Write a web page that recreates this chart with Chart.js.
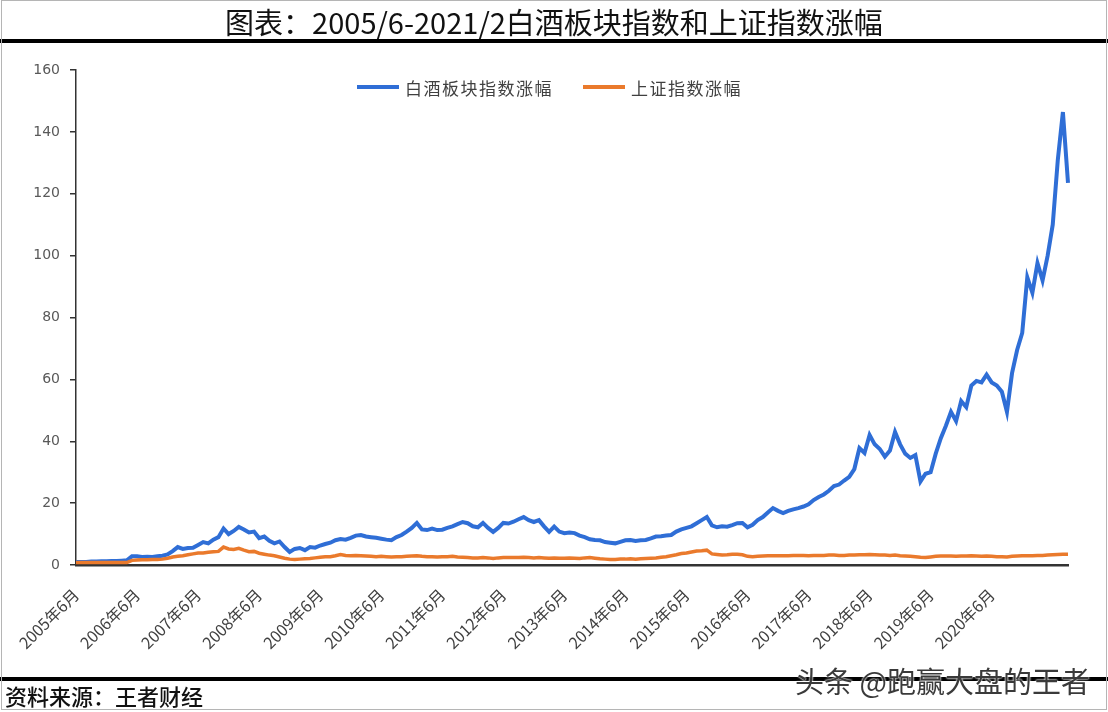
<!DOCTYPE html>
<html><head><meta charset="utf-8">
<script src="https://cdn.jsdelivr.net/npm/chart.js@4.4.0/dist/chart.umd.min.js"></script>
<style>
html,body{margin:0;padding:0;background:#fff;}
#wrap{position:relative;width:1108px;height:712px;overflow:hidden;background:#fff;}
#c{position:absolute;left:0;top:0;}
#frame{position:absolute;left:1px;top:0;width:1104px;height:708px;border:1px solid #b5b5b5;pointer-events:none;}
#title{position:absolute;left:0;top:1px;width:1108px;text-align:center;font-family:'Noto Sans CJK SC';font-size:29px;color:#111;line-height:40px;white-space:nowrap;}
#tline{position:absolute;left:0;top:39px;width:1108px;height:4px;background:#000;}
#bline{position:absolute;left:0;top:677px;width:1108px;height:4px;background:#000;}
#src{position:absolute;left:5px;top:680px;font-family:'Noto Sans CJK SC';font-size:22px;font-weight:500;color:#111;line-height:30px;white-space:nowrap;}
#wm{position:absolute;left:795px;top:661px;font-family:'Noto Sans CJK SC';font-size:29px;color:#3a3a3a;line-height:38px;white-space:nowrap;text-shadow:0 0 2px #fff,0 0 2px #fff;}
.lg{position:absolute;top:75px;height:24px;display:flex;align-items:center;font-family:'Noto Sans CJK SC';font-size:17px;color:#404040;letter-spacing:1.5px;white-space:nowrap;}
.lg i{display:inline-block;width:42px;height:4px;margin-right:6px;}
</style></head>
<body>
<div id="wrap">
<canvas id="c" width="1108" height="712"></canvas>
<div id="title">图表：2005/6-2021/2白酒板块指数和上证指数涨幅</div>
<div id="tline"></div>
<div id="bline"></div>
<div id="src">资料来源：王者财经</div>
<div id="wm">头条 @跑赢大盘的王者</div>
<div id="lg0" class="lg" style="left:357px"></div>
<div id="lg1" class="lg" style="left:583px"></div>
<div id="frame"></div>
</div>
<script>
const seriesNames = ['白酒板块指数涨幅', '上证指数涨幅'];
const tickLabels = ['2005年6月','2006年6月','2007年6月','2008年6月','2009年6月','2010年6月','2011年6月','2012年6月','2013年6月','2014年6月','2015年6月','2016年6月','2017年6月','2018年6月','2019年6月','2020年6月'];
const yTicks = [0,20,40,60,80,100,120,140,160];
const baijiu = [
 1.0,1.0,1.0,1.1,1.1,1.2,1.2,1.3,1.3,1.4,1.5,2.8,
 2.8,2.6,2.7,2.6,2.8,3.0,3.4,4.5,5.8,5.2,5.5,5.6,
 6.5,7.4,7.0,8.2,9.0,11.8,10.0,11.0,12.3,11.5,10.5,10.8,
 8.7,9.2,7.8,7.0,7.6,5.8,4.2,5.2,5.5,4.8,5.8,5.6,
 6.3,6.8,7.2,8.0,8.4,8.2,8.8,9.5,9.7,9.2,9.0,8.8,
 8.5,8.2,8.0,9.0,9.7,10.8,12.0,13.6,11.5,11.3,11.8,11.3,
 11.4,12.0,12.5,13.2,13.9,13.5,12.5,12.2,13.6,12.0,10.7,12.0,
 13.6,13.4,14.0,14.8,15.5,14.5,13.9,14.5,12.5,10.7,12.4,10.8,
 10.3,10.5,10.3,9.5,9.0,8.3,8.1,8.0,7.4,7.2,7.0,7.5,
 8.0,8.1,7.8,8.0,8.1,8.6,9.2,9.3,9.5,9.7,10.8,11.5,
 12.0,12.5,13.5,14.5,15.5,12.8,12.2,12.5,12.4,12.9,13.5,13.6,
 12.2,13.0,14.5,15.5,17.0,18.4,17.5,16.8,17.5,18.0,18.4,18.9,
 19.6,21.0,22.0,22.8,24.0,25.5,26.0,27.3,28.5,31.0,37.8,36.2,
 42.0,39.0,37.5,35.0,37.0,43.0,39.0,36.0,34.6,35.5,27.0,29.5,
 30.0,36.0,41.0,45.0,49.5,46.5,53.0,51.0,58.0,59.5,59.0,61.5,
 59.0,58.0,56.0,49.5,62.0,69.5,75.0,93.0,88.0,97.6,92.0,100.0,
 110.0,131.0,146.4,123.5
];
const shanghai = [
 0.8,0.8,0.8,0.8,0.8,0.8,0.8,0.8,0.8,0.8,0.8,1.5,
 1.6,1.7,1.7,1.8,1.8,1.9,2.2,2.6,2.8,3.0,3.3,3.6,
 3.9,3.9,4.1,4.3,4.4,5.8,5.2,5.0,5.4,4.8,4.3,4.4,
 3.8,3.5,3.2,3.0,2.6,2.2,1.9,1.8,1.9,2.0,2.1,2.3,
 2.5,2.7,2.7,3.0,3.4,3.1,3.0,3.1,3.0,2.9,2.8,2.7,
 2.8,2.7,2.6,2.7,2.7,2.8,2.9,3.0,2.8,2.7,2.7,2.6,
 2.7,2.7,2.8,2.6,2.5,2.4,2.3,2.3,2.4,2.3,2.1,2.3,
 2.4,2.4,2.4,2.4,2.5,2.4,2.3,2.4,2.3,2.2,2.3,2.2,
 2.2,2.3,2.2,2.1,2.3,2.4,2.2,2.0,1.9,1.8,1.8,1.9,
 1.9,2.0,1.9,2.0,2.1,2.2,2.3,2.5,2.7,3.0,3.3,3.7,
 3.9,4.2,4.5,4.6,4.8,3.6,3.4,3.2,3.3,3.5,3.5,3.3,
 2.8,2.7,2.8,2.9,3.0,3.0,3.0,3.0,3.0,3.1,3.1,3.1,
 3.0,3.1,3.1,3.1,3.2,3.2,3.1,3.1,3.2,3.2,3.3,3.3,
 3.4,3.3,3.2,3.2,3.1,3.2,3.0,2.9,2.8,2.7,2.5,2.4,
 2.6,2.8,2.9,2.9,2.9,2.8,2.9,2.9,3.0,2.9,2.8,2.9,
 2.8,2.7,2.7,2.6,2.8,2.9,3.0,3.0,3.0,3.1,3.1,3.2,
 3.3,3.4,3.5,3.5
];
const pointsPerTick = 12;
const categories = baijiu.map((_, i) => (i % pointsPerTick === 0 && tickLabels[i / pointsPerTick]) ? tickLabels[i / pointsPerTick] : '');

const BLUE = '#2F6ED6', ORANGE = '#EA7A2C';
const colors = [BLUE, ORANGE];
seriesNames.forEach((n, k) => {
  const el = document.getElementById('lg' + k);
  const sw = document.createElement('i');
  sw.style.background = colors[k];
  el.appendChild(sw);
  el.appendChild(document.createTextNode(n));
});

new Chart(document.getElementById('c'), {
  type: 'line',
  data: {
    labels: categories,
    datasets: [
      { label: seriesNames[0], data: baijiu, borderColor: BLUE, backgroundColor: BLUE, borderWidth: 4, pointRadius: 0, tension: 0, order: 1 },
      { label: seriesNames[1], data: shanghai, borderColor: ORANGE, backgroundColor: ORANGE, borderWidth: 3.5, pointRadius: 0, tension: 0, order: 0 }
    ]
  },
  options: {
    responsive: false,
    animation: false,
    layout: { padding: { top: 70, right: 40, left: 0, bottom: 0 } },
    plugins: {
      tooltip: { enabled: false },
      legend: { display: false }
    },
    scales: {
      x: {
        type: 'category',
        offset: false,
        grid: { display: false, drawTicks: false },
        border: { display: true, color: '#333', width: 2.5 },
        ticks: {
          autoSkip: false, minRotation: 45, maxRotation: 45, padding: 20,
          color: '#404040',
          font: { family: "'Noto Sans CJK SC'", size: 16 }
        },
        afterFit: s => { s.height = 712 - 565; }
      },
      y: {
        min: 0, max: 160,
        afterBuildTicks: s => { s.ticks = yTicks.map(v => ({ value: v })); },
        grid: { display: true, drawOnChartArea: false, drawTicks: true, tickLength: 6, color: '#333', lineWidth: 1.5 },
        border: { display: true, color: '#333', width: 1.5 },
        ticks: {
          padding: 10, color: '#595959',
          font: { family: "'DejaVu Sans'", size: 14 }
        },
        afterFit: s => { s.width = 76; }
      }
    }
  }
});
</script>
</body></html>
